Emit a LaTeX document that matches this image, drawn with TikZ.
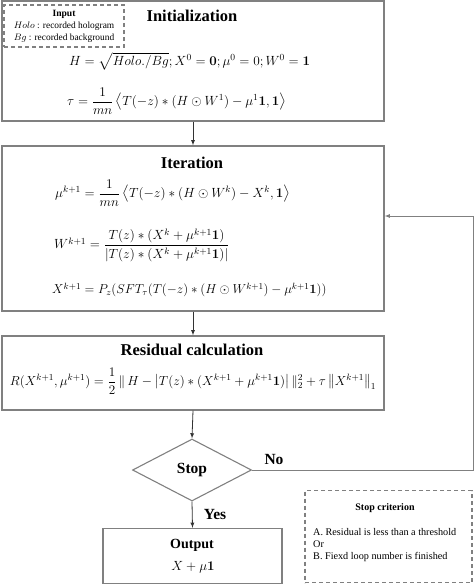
\RequirePackage{fix-cm}
\documentclass[tikz,border=0pt]{standalone}
\usepackage{amsmath}
\usepackage[no-math]{fontspec}
\setmainfont{Liberation Serif}
\usepackage{tikz}
\usetikzlibrary{calc}
\usetikzlibrary{shapes.geometric}

\definecolor{edgegray}{RGB}{128,128,128}
\tikzset{
  box/.style={draw=edgegray,line width=1.3pt,fill=white,inner sep=0pt},
  dashbox/.style={draw=edgegray,line width=1.1pt,dash pattern=on 4pt off 3pt,inner sep=0pt},
  arr/.style={-latex,line width=0.8pt,draw=black!80},
  title/.style={font=\bfseries\fontsize{16.5}{19}\selectfont},
  label/.style={font=\bfseries\fontsize{15.5}{18}\selectfont},
  eq/.style={font=\fontsize{13.3}{15}\selectfont,inner sep=0pt,anchor=west},
  small/.style={font=\fontsize{10.2}{12}\selectfont,inner sep=0pt},
}

\begin{document}
\begin{tikzpicture}[x=1pt,y=-1pt]
        \useasboundingbox (0,0) rectangle (474,584);

		% initialization
		\node[box,minimum width=382pt,minimum height=120pt] (init) at (193,61) {};
		\node[dashbox,minimum width=120pt,minimum height=42pt] (input) at (64,26) {};
		\node[small,font=\bfseries\fontsize{9.6}{12}\selectfont] (inputT) at (64,14) {Input};
		\node[small,font=\fontsize{9.4}{12}\selectfont] (inputA) at (64,26) {$Holo$ : recorded hologram};
		\node[small,font=\fontsize{9.4}{12}\selectfont] (inputB) at (64,38) {$Bg$ : recorded background};
		\node[title] (initT) at (192,16) {Initialization};
		\node[eq] (initH) at (69,61) {$H=\sqrt{Holo./Bg};X^0=\mathbf{0};\mu^0=0;W^0=\mathbf{1}$};
		\node[eq] (initTau) at (67,101) {$\tau=\dfrac{1}{mn}\left\langle T(-z)*(H\odot W^1)-\mu^1\mathbf{1},\mathbf{1}\right\rangle$};

		% iteration
		\node[box,minimum width=382pt,minimum height=165pt] (iter) at (193,228.5) {};
		\node[title] (iterT) at (192,163) {Iteration};
		\node[eq] (iterMu) at (55,193) {$\mu^{k+1}=\dfrac{1}{mn}\left\langle T(-z)*(H\odot W^k)-X^k,\mathbf{1}\right\rangle$};
		\node[eq] (iterW) at (54,245) {$W^{k+1}=\dfrac{T(z)*(X^k+\mu^{k+1}\mathbf{1})}{\left|T(z)*(X^k+\mu^{k+1}\mathbf{1})\right|}$};
		\node[eq,font=\fontsize{12.9}{15}\selectfont] (iterX) at (52,290) {$X^{k+1}=P_z(SFT_\tau(T(-z)*(H\odot W^{k+1})-\mu^{k+1}\mathbf{1}))$};

		% residual
		\node[box,minimum width=382pt,minimum height=74pt] (res) at (193,373) {};
		\node[title] (resT) at (192,350) {Residual calculation};
		\node[eq,anchor=center,font=\fontsize{13.1}{15}\selectfont] (resR) at (193,381) {$R(X^{k+1},\mu^{k+1})=\dfrac{1}{2}\,\|\,H-\left|T(z)*(X^{k+1}+\mu^{k+1}\mathbf{1})\right|\|_2^2+\tau\left\|X^{k+1}\right\|_1$};

		% stop test
		\node[diamond,draw=edgegray,line width=1.1pt,minimum width=119pt,minimum height=62pt,inner sep=0pt,label] (stop) at (192,470) {Stop};
		\node[label] (no) at (274,459) {No};
		\node[label] (yes) at (215,514) {Yes};

		% output
		\node[box,minimum width=179pt,minimum height=55pt] (out) at (192.5,556) {};
		\node[font=\bfseries\fontsize{14}{16}\selectfont] (outT) at (192,545) {Output};
		\node[eq,anchor=center] (outX) at (193,567) {$X+\mu\mathbf{1}$};

		% stop criterion
		\node[dashbox,minimum width=167pt,minimum height=92pt] (crit) at (388.5,536.5) {};
		\node[small,font=\bfseries\fontsize{10}{12}\selectfont] (critT) at (385,508) {Stop criterion};
		\node[small,anchor=west] (critA) at (313,532) {A. Residual is less than a threshold};
		\node[small,anchor=west] (critO) at (313,544) {Or};
		\node[small,anchor=west] (critB) at (313,557) {B. Fiexd loop number is finished};

		% connectors
		\coordinate (fb) at (473,216);
		\draw[arr] (init.south) -- (iter.north);
		\draw[arr] (iter.south) -- (res.north);
		\draw[arr] (res.south) -- (stop.north);
		\draw[arr] (stop.south) -- (out.north);
		\draw[arr,draw=edgegray] (stop.east) -| (fb) -- (fb -| iter.east);
\end{tikzpicture}
\end{document}
